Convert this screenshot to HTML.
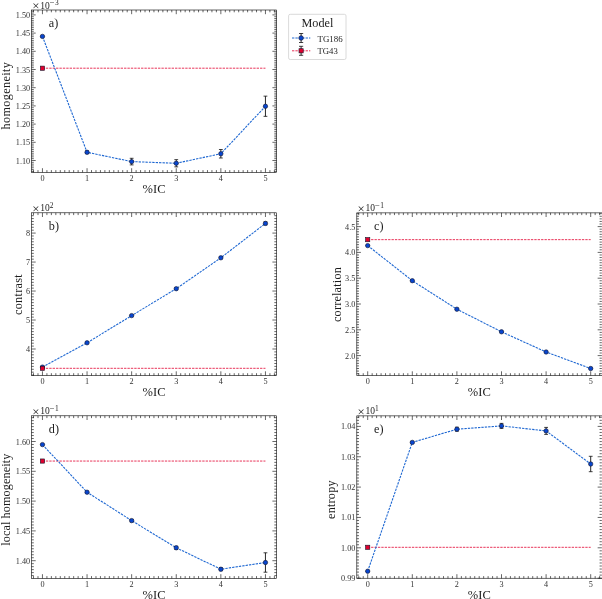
<!DOCTYPE html>
<html><head><meta charset="utf-8"><title>Texture features vs %IC</title>
<style>
html,body{margin:0;padding:0;background:#fff;}
body{width:602px;height:599px;overflow:hidden;}
svg{display:block;font-family:"Liberation Serif", "DejaVu Serif", serif;fill:#1c1c1c;}
</style></head><body>
<svg width="602" height="599" viewBox="0 0 602 599">
<rect width="602" height="599" fill="#fff"/>
<text x="42.45" y="180.5" font-size="8.2" text-anchor="middle" fill="#333">0</text>
<text x="87.05" y="180.5" font-size="8.2" text-anchor="middle" fill="#333">1</text>
<text x="131.65" y="180.5" font-size="8.2" text-anchor="middle" fill="#333">2</text>
<text x="176.25" y="180.5" font-size="8.2" text-anchor="middle" fill="#333">3</text>
<text x="220.85" y="180.5" font-size="8.2" text-anchor="middle" fill="#333">4</text>
<text x="265.45" y="180.5" font-size="8.2" text-anchor="middle" fill="#333">5</text>
<text x="30.15" y="163.5" font-size="8.2" text-anchor="end" fill="#333">1.10</text>
<text x="30.15" y="145.3" font-size="8.2" text-anchor="end" fill="#333">1.15</text>
<text x="30.15" y="127.1" font-size="8.2" text-anchor="end" fill="#333">1.20</text>
<text x="30.15" y="108.9" font-size="8.2" text-anchor="end" fill="#333">1.25</text>
<text x="30.15" y="90.7" font-size="8.2" text-anchor="end" fill="#333">1.30</text>
<text x="30.15" y="72.5" font-size="8.2" text-anchor="end" fill="#333">1.35</text>
<text x="30.15" y="54.3" font-size="8.2" text-anchor="end" fill="#333">1.40</text>
<text x="30.15" y="36.1" font-size="8.2" text-anchor="end" fill="#333">1.45</text>
<text x="30.15" y="17.9" font-size="8.2" text-anchor="end" fill="#333">1.50</text>
<path d="M42.45 172.4v-4.2M42.45 10v4.2M87.05 172.4v-4.2M87.05 10v4.2M131.65 172.4v-4.2M131.65 10v4.2M176.25 172.4v-4.2M176.25 10v4.2M220.85 172.4v-4.2M220.85 10v4.2M265.45 172.4v-4.2M265.45 10v4.2M31.5 160.5h4.2M276.6 160.5h-4.2M31.5 142.3h4.2M276.6 142.3h-4.2M31.5 124.1h4.2M276.6 124.1h-4.2M31.5 105.9h4.2M276.6 105.9h-4.2M31.5 87.7h4.2M276.6 87.7h-4.2M31.5 69.5h4.2M276.6 69.5h-4.2M31.5 51.3h4.2M276.6 51.3h-4.2M31.5 33.1h4.2M276.6 33.1h-4.2M31.5 14.9h4.2M276.6 14.9h-4.2" stroke="#000" stroke-width="0.6" fill="none"/>
<path d="M33.53 172.4v-2.3M33.53 10v2.3M37.99 172.4v-2.3M37.99 10v2.3M46.91 172.4v-2.3M46.91 10v2.3M51.37 172.4v-2.3M51.37 10v2.3M55.83 172.4v-2.3M55.83 10v2.3M60.29 172.4v-2.3M60.29 10v2.3M64.75 172.4v-2.3M64.75 10v2.3M69.21 172.4v-2.3M69.21 10v2.3M73.67 172.4v-2.3M73.67 10v2.3M78.13 172.4v-2.3M78.13 10v2.3M82.59 172.4v-2.3M82.59 10v2.3M91.51 172.4v-2.3M91.51 10v2.3M95.97 172.4v-2.3M95.97 10v2.3M100.43 172.4v-2.3M100.43 10v2.3M104.89 172.4v-2.3M104.89 10v2.3M109.35 172.4v-2.3M109.35 10v2.3M113.81 172.4v-2.3M113.81 10v2.3M118.27 172.4v-2.3M118.27 10v2.3M122.73 172.4v-2.3M122.73 10v2.3M127.19 172.4v-2.3M127.19 10v2.3M136.11 172.4v-2.3M136.11 10v2.3M140.57 172.4v-2.3M140.57 10v2.3M145.03 172.4v-2.3M145.03 10v2.3M149.49 172.4v-2.3M149.49 10v2.3M153.95 172.4v-2.3M153.95 10v2.3M158.41 172.4v-2.3M158.41 10v2.3M162.87 172.4v-2.3M162.87 10v2.3M167.33 172.4v-2.3M167.33 10v2.3M171.79 172.4v-2.3M171.79 10v2.3M180.71 172.4v-2.3M180.71 10v2.3M185.17 172.4v-2.3M185.17 10v2.3M189.63 172.4v-2.3M189.63 10v2.3M194.09 172.4v-2.3M194.09 10v2.3M198.55 172.4v-2.3M198.55 10v2.3M203.01 172.4v-2.3M203.01 10v2.3M207.47 172.4v-2.3M207.47 10v2.3M211.93 172.4v-2.3M211.93 10v2.3M216.39 172.4v-2.3M216.39 10v2.3M225.31 172.4v-2.3M225.31 10v2.3M229.77 172.4v-2.3M229.77 10v2.3M234.23 172.4v-2.3M234.23 10v2.3M238.69 172.4v-2.3M238.69 10v2.3M243.15 172.4v-2.3M243.15 10v2.3M247.61 172.4v-2.3M247.61 10v2.3M252.07 172.4v-2.3M252.07 10v2.3M256.53 172.4v-2.3M256.53 10v2.3M260.99 172.4v-2.3M260.99 10v2.3M269.91 172.4v-2.3M269.91 10v2.3M274.37 172.4v-2.3M274.37 10v2.3M31.5 171.42h2.3M276.6 171.42h-2.3M31.5 169.6h2.3M276.6 169.6h-2.3M31.5 167.78h2.3M276.6 167.78h-2.3M31.5 165.96h2.3M276.6 165.96h-2.3M31.5 164.14h2.3M276.6 164.14h-2.3M31.5 162.32h2.3M276.6 162.32h-2.3M31.5 158.68h2.3M276.6 158.68h-2.3M31.5 156.86h2.3M276.6 156.86h-2.3M31.5 155.04h2.3M276.6 155.04h-2.3M31.5 153.22h2.3M276.6 153.22h-2.3M31.5 151.4h2.3M276.6 151.4h-2.3M31.5 149.58h2.3M276.6 149.58h-2.3M31.5 147.76h2.3M276.6 147.76h-2.3M31.5 145.94h2.3M276.6 145.94h-2.3M31.5 144.12h2.3M276.6 144.12h-2.3M31.5 140.48h2.3M276.6 140.48h-2.3M31.5 138.66h2.3M276.6 138.66h-2.3M31.5 136.84h2.3M276.6 136.84h-2.3M31.5 135.02h2.3M276.6 135.02h-2.3M31.5 133.2h2.3M276.6 133.2h-2.3M31.5 131.38h2.3M276.6 131.38h-2.3M31.5 129.56h2.3M276.6 129.56h-2.3M31.5 127.74h2.3M276.6 127.74h-2.3M31.5 125.92h2.3M276.6 125.92h-2.3M31.5 122.28h2.3M276.6 122.28h-2.3M31.5 120.46h2.3M276.6 120.46h-2.3M31.5 118.64h2.3M276.6 118.64h-2.3M31.5 116.82h2.3M276.6 116.82h-2.3M31.5 115h2.3M276.6 115h-2.3M31.5 113.18h2.3M276.6 113.18h-2.3M31.5 111.36h2.3M276.6 111.36h-2.3M31.5 109.54h2.3M276.6 109.54h-2.3M31.5 107.72h2.3M276.6 107.72h-2.3M31.5 104.08h2.3M276.6 104.08h-2.3M31.5 102.26h2.3M276.6 102.26h-2.3M31.5 100.44h2.3M276.6 100.44h-2.3M31.5 98.62h2.3M276.6 98.62h-2.3M31.5 96.8h2.3M276.6 96.8h-2.3M31.5 94.98h2.3M276.6 94.98h-2.3M31.5 93.16h2.3M276.6 93.16h-2.3M31.5 91.34h2.3M276.6 91.34h-2.3M31.5 89.52h2.3M276.6 89.52h-2.3M31.5 85.88h2.3M276.6 85.88h-2.3M31.5 84.06h2.3M276.6 84.06h-2.3M31.5 82.24h2.3M276.6 82.24h-2.3M31.5 80.42h2.3M276.6 80.42h-2.3M31.5 78.6h2.3M276.6 78.6h-2.3M31.5 76.78h2.3M276.6 76.78h-2.3M31.5 74.96h2.3M276.6 74.96h-2.3M31.5 73.14h2.3M276.6 73.14h-2.3M31.5 71.32h2.3M276.6 71.32h-2.3M31.5 67.68h2.3M276.6 67.68h-2.3M31.5 65.86h2.3M276.6 65.86h-2.3M31.5 64.04h2.3M276.6 64.04h-2.3M31.5 62.22h2.3M276.6 62.22h-2.3M31.5 60.4h2.3M276.6 60.4h-2.3M31.5 58.58h2.3M276.6 58.58h-2.3M31.5 56.76h2.3M276.6 56.76h-2.3M31.5 54.94h2.3M276.6 54.94h-2.3M31.5 53.12h2.3M276.6 53.12h-2.3M31.5 49.48h2.3M276.6 49.48h-2.3M31.5 47.66h2.3M276.6 47.66h-2.3M31.5 45.84h2.3M276.6 45.84h-2.3M31.5 44.02h2.3M276.6 44.02h-2.3M31.5 42.2h2.3M276.6 42.2h-2.3M31.5 40.38h2.3M276.6 40.38h-2.3M31.5 38.56h2.3M276.6 38.56h-2.3M31.5 36.74h2.3M276.6 36.74h-2.3M31.5 34.92h2.3M276.6 34.92h-2.3M31.5 31.28h2.3M276.6 31.28h-2.3M31.5 29.46h2.3M276.6 29.46h-2.3M31.5 27.64h2.3M276.6 27.64h-2.3M31.5 25.82h2.3M276.6 25.82h-2.3M31.5 24h2.3M276.6 24h-2.3M31.5 22.18h2.3M276.6 22.18h-2.3M31.5 20.36h2.3M276.6 20.36h-2.3M31.5 18.54h2.3M276.6 18.54h-2.3M31.5 16.72h2.3M276.6 16.72h-2.3M31.5 13.08h2.3M276.6 13.08h-2.3M31.5 11.26h2.3M276.6 11.26h-2.3" stroke="#000" stroke-width="0.6" fill="none"/>
<rect x="31.5" y="10" width="245.1" height="162.4" fill="none" stroke="#000" stroke-width="0.6"/>
<text y="8.5"><tspan x="32.2" font-size="12.8" dy="1.8">×</tspan><tspan x="40.2" dy="-1.8" font-size="9.5">10</tspan><tspan x="49.8" font-size="8.8" dy="-3.3">−</tspan><tspan x="55.1" font-size="7.4" dy="-0.5">3</tspan></text>
<text x="154.05" y="192.6" font-size="13.5" text-anchor="middle" textLength="22.9" lengthAdjust="spacingAndGlyphs">%IC</text>
<text transform="translate(10,95.85) rotate(-90)" font-size="12.2" text-anchor="middle" textLength="67.2" lengthAdjust="spacing">homogeneity</text>
<text x="48.8" y="26.8" font-size="12.2" text-anchor="start" >a)</text>
<line x1="42.45" y1="68.2" x2="265.45" y2="68.2" stroke="#e8365a" stroke-width="1.0" stroke-dasharray="2.35 1.05"/>
<polyline points="42.45,36.4 87.05,152.3 131.65,161.6 176.25,163.25 220.85,153.75 265.45,106.25" fill="none" stroke="#1f68d2" stroke-width="1.1" stroke-dasharray="2.35 1.05"/>
<line x1="42.45" y1="36" x2="42.45" y2="36.8" stroke="#111" stroke-width="0.9" />
<line x1="40.55" y1="36" x2="44.35" y2="36" stroke="#111" stroke-width="0.8" />
<line x1="40.55" y1="36.8" x2="44.35" y2="36.8" stroke="#111" stroke-width="0.8" />
<line x1="87.05" y1="151" x2="87.05" y2="153.6" stroke="#111" stroke-width="0.9" />
<line x1="85.15" y1="151" x2="88.95" y2="151" stroke="#111" stroke-width="0.8" />
<line x1="85.15" y1="153.6" x2="88.95" y2="153.6" stroke="#111" stroke-width="0.8" />
<line x1="131.65" y1="158.3" x2="131.65" y2="164.9" stroke="#111" stroke-width="0.9" />
<line x1="129.75" y1="158.3" x2="133.55" y2="158.3" stroke="#111" stroke-width="0.8" />
<line x1="129.75" y1="164.9" x2="133.55" y2="164.9" stroke="#111" stroke-width="0.8" />
<line x1="176.25" y1="159.65" x2="176.25" y2="166.85" stroke="#111" stroke-width="0.9" />
<line x1="174.35" y1="159.65" x2="178.15" y2="159.65" stroke="#111" stroke-width="0.8" />
<line x1="174.35" y1="166.85" x2="178.15" y2="166.85" stroke="#111" stroke-width="0.8" />
<line x1="220.85" y1="149.5" x2="220.85" y2="158" stroke="#111" stroke-width="0.9" />
<line x1="218.95" y1="149.5" x2="222.75" y2="149.5" stroke="#111" stroke-width="0.8" />
<line x1="218.95" y1="158" x2="222.75" y2="158" stroke="#111" stroke-width="0.8" />
<line x1="265.45" y1="96.15" x2="265.45" y2="116.35" stroke="#111" stroke-width="0.9" />
<line x1="263.55" y1="96.15" x2="267.35" y2="96.15" stroke="#111" stroke-width="0.8" />
<line x1="263.55" y1="116.35" x2="267.35" y2="116.35" stroke="#111" stroke-width="0.8" />
<circle cx="42.45" cy="36.4" r="2.2" fill="#0846cf" stroke="#15152a" stroke-width="0.6"/>
<circle cx="87.05" cy="152.3" r="2.2" fill="#0846cf" stroke="#15152a" stroke-width="0.6"/>
<circle cx="131.65" cy="161.6" r="2.2" fill="#0846cf" stroke="#15152a" stroke-width="0.6"/>
<circle cx="176.25" cy="163.25" r="2.2" fill="#0846cf" stroke="#15152a" stroke-width="0.6"/>
<circle cx="220.85" cy="153.75" r="2.2" fill="#0846cf" stroke="#15152a" stroke-width="0.6"/>
<circle cx="265.45" cy="106.25" r="2.2" fill="#0846cf" stroke="#15152a" stroke-width="0.6"/>
<rect x="40.35" y="66.1" width="4.2" height="4.2" fill="#e0002e" stroke="#15152a" stroke-width="0.6"/>
<text x="42.45" y="383.6" font-size="8.2" text-anchor="middle" fill="#333">0</text>
<text x="87.05" y="383.6" font-size="8.2" text-anchor="middle" fill="#333">1</text>
<text x="131.65" y="383.6" font-size="8.2" text-anchor="middle" fill="#333">2</text>
<text x="176.25" y="383.6" font-size="8.2" text-anchor="middle" fill="#333">3</text>
<text x="220.85" y="383.6" font-size="8.2" text-anchor="middle" fill="#333">4</text>
<text x="265.45" y="383.6" font-size="8.2" text-anchor="middle" fill="#333">5</text>
<text x="30.15" y="352" font-size="8.2" text-anchor="end" fill="#333">4</text>
<text x="30.15" y="323.02" font-size="8.2" text-anchor="end" fill="#333">5</text>
<text x="30.15" y="294.04" font-size="8.2" text-anchor="end" fill="#333">6</text>
<text x="30.15" y="265.06" font-size="8.2" text-anchor="end" fill="#333">7</text>
<text x="30.15" y="236.08" font-size="8.2" text-anchor="end" fill="#333">8</text>
<path d="M42.45 375.5v-4.2M42.45 212.8v4.2M87.05 375.5v-4.2M87.05 212.8v4.2M131.65 375.5v-4.2M131.65 212.8v4.2M176.25 375.5v-4.2M176.25 212.8v4.2M220.85 375.5v-4.2M220.85 212.8v4.2M265.45 375.5v-4.2M265.45 212.8v4.2M31.5 349h4.2M276.6 349h-4.2M31.5 320.02h4.2M276.6 320.02h-4.2M31.5 291.04h4.2M276.6 291.04h-4.2M31.5 262.06h4.2M276.6 262.06h-4.2M31.5 233.08h4.2M276.6 233.08h-4.2" stroke="#000" stroke-width="0.6" fill="none"/>
<path d="M33.53 375.5v-2.3M33.53 212.8v2.3M37.99 375.5v-2.3M37.99 212.8v2.3M46.91 375.5v-2.3M46.91 212.8v2.3M51.37 375.5v-2.3M51.37 212.8v2.3M55.83 375.5v-2.3M55.83 212.8v2.3M60.29 375.5v-2.3M60.29 212.8v2.3M64.75 375.5v-2.3M64.75 212.8v2.3M69.21 375.5v-2.3M69.21 212.8v2.3M73.67 375.5v-2.3M73.67 212.8v2.3M78.13 375.5v-2.3M78.13 212.8v2.3M82.59 375.5v-2.3M82.59 212.8v2.3M91.51 375.5v-2.3M91.51 212.8v2.3M95.97 375.5v-2.3M95.97 212.8v2.3M100.43 375.5v-2.3M100.43 212.8v2.3M104.89 375.5v-2.3M104.89 212.8v2.3M109.35 375.5v-2.3M109.35 212.8v2.3M113.81 375.5v-2.3M113.81 212.8v2.3M118.27 375.5v-2.3M118.27 212.8v2.3M122.73 375.5v-2.3M122.73 212.8v2.3M127.19 375.5v-2.3M127.19 212.8v2.3M136.11 375.5v-2.3M136.11 212.8v2.3M140.57 375.5v-2.3M140.57 212.8v2.3M145.03 375.5v-2.3M145.03 212.8v2.3M149.49 375.5v-2.3M149.49 212.8v2.3M153.95 375.5v-2.3M153.95 212.8v2.3M158.41 375.5v-2.3M158.41 212.8v2.3M162.87 375.5v-2.3M162.87 212.8v2.3M167.33 375.5v-2.3M167.33 212.8v2.3M171.79 375.5v-2.3M171.79 212.8v2.3M180.71 375.5v-2.3M180.71 212.8v2.3M185.17 375.5v-2.3M185.17 212.8v2.3M189.63 375.5v-2.3M189.63 212.8v2.3M194.09 375.5v-2.3M194.09 212.8v2.3M198.55 375.5v-2.3M198.55 212.8v2.3M203.01 375.5v-2.3M203.01 212.8v2.3M207.47 375.5v-2.3M207.47 212.8v2.3M211.93 375.5v-2.3M211.93 212.8v2.3M216.39 375.5v-2.3M216.39 212.8v2.3M225.31 375.5v-2.3M225.31 212.8v2.3M229.77 375.5v-2.3M229.77 212.8v2.3M234.23 375.5v-2.3M234.23 212.8v2.3M238.69 375.5v-2.3M238.69 212.8v2.3M243.15 375.5v-2.3M243.15 212.8v2.3M247.61 375.5v-2.3M247.61 212.8v2.3M252.07 375.5v-2.3M252.07 212.8v2.3M256.53 375.5v-2.3M256.53 212.8v2.3M260.99 375.5v-2.3M260.99 212.8v2.3M269.91 375.5v-2.3M269.91 212.8v2.3M274.37 375.5v-2.3M274.37 212.8v2.3M31.5 375.08h2.3M276.6 375.08h-2.3M31.5 372.18h2.3M276.6 372.18h-2.3M31.5 369.29h2.3M276.6 369.29h-2.3M31.5 366.39h2.3M276.6 366.39h-2.3M31.5 363.49h2.3M276.6 363.49h-2.3M31.5 360.59h2.3M276.6 360.59h-2.3M31.5 357.69h2.3M276.6 357.69h-2.3M31.5 354.8h2.3M276.6 354.8h-2.3M31.5 351.9h2.3M276.6 351.9h-2.3M31.5 346.1h2.3M276.6 346.1h-2.3M31.5 343.2h2.3M276.6 343.2h-2.3M31.5 340.31h2.3M276.6 340.31h-2.3M31.5 337.41h2.3M276.6 337.41h-2.3M31.5 334.51h2.3M276.6 334.51h-2.3M31.5 331.61h2.3M276.6 331.61h-2.3M31.5 328.71h2.3M276.6 328.71h-2.3M31.5 325.82h2.3M276.6 325.82h-2.3M31.5 322.92h2.3M276.6 322.92h-2.3M31.5 317.12h2.3M276.6 317.12h-2.3M31.5 314.22h2.3M276.6 314.22h-2.3M31.5 311.33h2.3M276.6 311.33h-2.3M31.5 308.43h2.3M276.6 308.43h-2.3M31.5 305.53h2.3M276.6 305.53h-2.3M31.5 302.63h2.3M276.6 302.63h-2.3M31.5 299.73h2.3M276.6 299.73h-2.3M31.5 296.84h2.3M276.6 296.84h-2.3M31.5 293.94h2.3M276.6 293.94h-2.3M31.5 288.14h2.3M276.6 288.14h-2.3M31.5 285.24h2.3M276.6 285.24h-2.3M31.5 282.35h2.3M276.6 282.35h-2.3M31.5 279.45h2.3M276.6 279.45h-2.3M31.5 276.55h2.3M276.6 276.55h-2.3M31.5 273.65h2.3M276.6 273.65h-2.3M31.5 270.75h2.3M276.6 270.75h-2.3M31.5 267.86h2.3M276.6 267.86h-2.3M31.5 264.96h2.3M276.6 264.96h-2.3M31.5 259.16h2.3M276.6 259.16h-2.3M31.5 256.26h2.3M276.6 256.26h-2.3M31.5 253.37h2.3M276.6 253.37h-2.3M31.5 250.47h2.3M276.6 250.47h-2.3M31.5 247.57h2.3M276.6 247.57h-2.3M31.5 244.67h2.3M276.6 244.67h-2.3M31.5 241.77h2.3M276.6 241.77h-2.3M31.5 238.88h2.3M276.6 238.88h-2.3M31.5 235.98h2.3M276.6 235.98h-2.3M31.5 230.18h2.3M276.6 230.18h-2.3M31.5 227.28h2.3M276.6 227.28h-2.3M31.5 224.39h2.3M276.6 224.39h-2.3M31.5 221.49h2.3M276.6 221.49h-2.3M31.5 218.59h2.3M276.6 218.59h-2.3M31.5 215.69h2.3M276.6 215.69h-2.3" stroke="#000" stroke-width="0.6" fill="none"/>
<rect x="31.5" y="212.8" width="245.1" height="162.7" fill="none" stroke="#000" stroke-width="0.6"/>
<text y="211.3"><tspan x="32.2" font-size="12.8" dy="1.8">×</tspan><tspan x="40.2" dy="-1.8" font-size="9.5">10</tspan><tspan x="49.8" font-size="7.4" dy="-3.7">2</tspan></text>
<text x="154.05" y="395.7" font-size="13.5" text-anchor="middle" textLength="22.9" lengthAdjust="spacingAndGlyphs">%IC</text>
<text transform="translate(21.7,294.7) rotate(-90)" font-size="12.2" text-anchor="middle" textLength="40.6" lengthAdjust="spacing">contrast</text>
<text x="48.8" y="229.6" font-size="12.2" text-anchor="start" >b)</text>
<line x1="42.45" y1="368.3" x2="265.45" y2="368.3" stroke="#e8365a" stroke-width="1.0" stroke-dasharray="2.35 1.05"/>
<polyline points="42.45,367.1 87.05,342.8 131.65,315.6 176.25,288.7 220.85,257.8 265.45,223.4" fill="none" stroke="#1f68d2" stroke-width="1.1" stroke-dasharray="2.35 1.05"/>
<line x1="42.45" y1="366.8" x2="42.45" y2="367.4" stroke="#111" stroke-width="0.9" />
<line x1="40.55" y1="366.8" x2="44.35" y2="366.8" stroke="#111" stroke-width="0.8" />
<line x1="40.55" y1="367.4" x2="44.35" y2="367.4" stroke="#111" stroke-width="0.8" />
<line x1="87.05" y1="342.3" x2="87.05" y2="343.3" stroke="#111" stroke-width="0.9" />
<line x1="85.15" y1="342.3" x2="88.95" y2="342.3" stroke="#111" stroke-width="0.8" />
<line x1="85.15" y1="343.3" x2="88.95" y2="343.3" stroke="#111" stroke-width="0.8" />
<line x1="131.65" y1="315.1" x2="131.65" y2="316.1" stroke="#111" stroke-width="0.9" />
<line x1="129.75" y1="315.1" x2="133.55" y2="315.1" stroke="#111" stroke-width="0.8" />
<line x1="129.75" y1="316.1" x2="133.55" y2="316.1" stroke="#111" stroke-width="0.8" />
<line x1="176.25" y1="288" x2="176.25" y2="289.4" stroke="#111" stroke-width="0.9" />
<line x1="174.35" y1="288" x2="178.15" y2="288" stroke="#111" stroke-width="0.8" />
<line x1="174.35" y1="289.4" x2="178.15" y2="289.4" stroke="#111" stroke-width="0.8" />
<line x1="220.85" y1="257" x2="220.85" y2="258.6" stroke="#111" stroke-width="0.9" />
<line x1="218.95" y1="257" x2="222.75" y2="257" stroke="#111" stroke-width="0.8" />
<line x1="218.95" y1="258.6" x2="222.75" y2="258.6" stroke="#111" stroke-width="0.8" />
<line x1="265.45" y1="221.9" x2="265.45" y2="224.9" stroke="#111" stroke-width="0.9" />
<line x1="263.55" y1="221.9" x2="267.35" y2="221.9" stroke="#111" stroke-width="0.8" />
<line x1="263.55" y1="224.9" x2="267.35" y2="224.9" stroke="#111" stroke-width="0.8" />
<circle cx="42.45" cy="367.1" r="2.2" fill="#0846cf" stroke="#15152a" stroke-width="0.6"/>
<circle cx="87.05" cy="342.8" r="2.2" fill="#0846cf" stroke="#15152a" stroke-width="0.6"/>
<circle cx="131.65" cy="315.6" r="2.2" fill="#0846cf" stroke="#15152a" stroke-width="0.6"/>
<circle cx="176.25" cy="288.7" r="2.2" fill="#0846cf" stroke="#15152a" stroke-width="0.6"/>
<circle cx="220.85" cy="257.8" r="2.2" fill="#0846cf" stroke="#15152a" stroke-width="0.6"/>
<circle cx="265.45" cy="223.4" r="2.2" fill="#0846cf" stroke="#15152a" stroke-width="0.6"/>
<rect x="40.35" y="366.2" width="4.2" height="4.2" fill="#e0002e" stroke="#15152a" stroke-width="0.6"/>
<text x="367.7" y="383.6" font-size="8.2" text-anchor="middle" fill="#333">0</text>
<text x="412.3" y="383.6" font-size="8.2" text-anchor="middle" fill="#333">1</text>
<text x="456.9" y="383.6" font-size="8.2" text-anchor="middle" fill="#333">2</text>
<text x="501.5" y="383.6" font-size="8.2" text-anchor="middle" fill="#333">3</text>
<text x="546.1" y="383.6" font-size="8.2" text-anchor="middle" fill="#333">4</text>
<text x="590.7" y="383.6" font-size="8.2" text-anchor="middle" fill="#333">5</text>
<text x="355.35" y="358.6" font-size="8.2" text-anchor="end" fill="#333">2.0</text>
<text x="355.35" y="332.8" font-size="8.2" text-anchor="end" fill="#333">2.5</text>
<text x="355.35" y="307" font-size="8.2" text-anchor="end" fill="#333">3.0</text>
<text x="355.35" y="281.2" font-size="8.2" text-anchor="end" fill="#333">3.5</text>
<text x="355.35" y="255.4" font-size="8.2" text-anchor="end" fill="#333">4.0</text>
<text x="355.35" y="229.6" font-size="8.2" text-anchor="end" fill="#333">4.5</text>
<path d="M367.7 375.5v-4.2M367.7 212.8v4.2M412.3 375.5v-4.2M412.3 212.8v4.2M456.9 375.5v-4.2M456.9 212.8v4.2M501.5 375.5v-4.2M501.5 212.8v4.2M546.1 375.5v-4.2M546.1 212.8v4.2M590.7 375.5v-4.2M590.7 212.8v4.2M356.7 355.6h4.2M601.85 355.6h-4.2M356.7 329.8h4.2M601.85 329.8h-4.2M356.7 304h4.2M601.85 304h-4.2M356.7 278.2h4.2M601.85 278.2h-4.2M356.7 252.4h4.2M601.85 252.4h-4.2M356.7 226.6h4.2M601.85 226.6h-4.2" stroke="#000" stroke-width="0.6" fill="none"/>
<path d="M358.78 375.5v-2.3M358.78 212.8v2.3M363.24 375.5v-2.3M363.24 212.8v2.3M372.16 375.5v-2.3M372.16 212.8v2.3M376.62 375.5v-2.3M376.62 212.8v2.3M381.08 375.5v-2.3M381.08 212.8v2.3M385.54 375.5v-2.3M385.54 212.8v2.3M390 375.5v-2.3M390 212.8v2.3M394.46 375.5v-2.3M394.46 212.8v2.3M398.92 375.5v-2.3M398.92 212.8v2.3M403.38 375.5v-2.3M403.38 212.8v2.3M407.84 375.5v-2.3M407.84 212.8v2.3M416.76 375.5v-2.3M416.76 212.8v2.3M421.22 375.5v-2.3M421.22 212.8v2.3M425.68 375.5v-2.3M425.68 212.8v2.3M430.14 375.5v-2.3M430.14 212.8v2.3M434.6 375.5v-2.3M434.6 212.8v2.3M439.06 375.5v-2.3M439.06 212.8v2.3M443.52 375.5v-2.3M443.52 212.8v2.3M447.98 375.5v-2.3M447.98 212.8v2.3M452.44 375.5v-2.3M452.44 212.8v2.3M461.36 375.5v-2.3M461.36 212.8v2.3M465.82 375.5v-2.3M465.82 212.8v2.3M470.28 375.5v-2.3M470.28 212.8v2.3M474.74 375.5v-2.3M474.74 212.8v2.3M479.2 375.5v-2.3M479.2 212.8v2.3M483.66 375.5v-2.3M483.66 212.8v2.3M488.12 375.5v-2.3M488.12 212.8v2.3M492.58 375.5v-2.3M492.58 212.8v2.3M497.04 375.5v-2.3M497.04 212.8v2.3M505.96 375.5v-2.3M505.96 212.8v2.3M510.42 375.5v-2.3M510.42 212.8v2.3M514.88 375.5v-2.3M514.88 212.8v2.3M519.34 375.5v-2.3M519.34 212.8v2.3M523.8 375.5v-2.3M523.8 212.8v2.3M528.26 375.5v-2.3M528.26 212.8v2.3M532.72 375.5v-2.3M532.72 212.8v2.3M537.18 375.5v-2.3M537.18 212.8v2.3M541.64 375.5v-2.3M541.64 212.8v2.3M550.56 375.5v-2.3M550.56 212.8v2.3M555.02 375.5v-2.3M555.02 212.8v2.3M559.48 375.5v-2.3M559.48 212.8v2.3M563.94 375.5v-2.3M563.94 212.8v2.3M568.4 375.5v-2.3M568.4 212.8v2.3M572.86 375.5v-2.3M572.86 212.8v2.3M577.32 375.5v-2.3M577.32 212.8v2.3M581.78 375.5v-2.3M581.78 212.8v2.3M586.24 375.5v-2.3M586.24 212.8v2.3M595.16 375.5v-2.3M595.16 212.8v2.3M599.62 375.5v-2.3M599.62 212.8v2.3M356.7 373.66h2.3M601.85 373.66h-2.3M356.7 371.08h2.3M601.85 371.08h-2.3M356.7 368.5h2.3M601.85 368.5h-2.3M356.7 365.92h2.3M601.85 365.92h-2.3M356.7 363.34h2.3M601.85 363.34h-2.3M356.7 360.76h2.3M601.85 360.76h-2.3M356.7 358.18h2.3M601.85 358.18h-2.3M356.7 353.02h2.3M601.85 353.02h-2.3M356.7 350.44h2.3M601.85 350.44h-2.3M356.7 347.86h2.3M601.85 347.86h-2.3M356.7 345.28h2.3M601.85 345.28h-2.3M356.7 342.7h2.3M601.85 342.7h-2.3M356.7 340.12h2.3M601.85 340.12h-2.3M356.7 337.54h2.3M601.85 337.54h-2.3M356.7 334.96h2.3M601.85 334.96h-2.3M356.7 332.38h2.3M601.85 332.38h-2.3M356.7 327.22h2.3M601.85 327.22h-2.3M356.7 324.64h2.3M601.85 324.64h-2.3M356.7 322.06h2.3M601.85 322.06h-2.3M356.7 319.48h2.3M601.85 319.48h-2.3M356.7 316.9h2.3M601.85 316.9h-2.3M356.7 314.32h2.3M601.85 314.32h-2.3M356.7 311.74h2.3M601.85 311.74h-2.3M356.7 309.16h2.3M601.85 309.16h-2.3M356.7 306.58h2.3M601.85 306.58h-2.3M356.7 301.42h2.3M601.85 301.42h-2.3M356.7 298.84h2.3M601.85 298.84h-2.3M356.7 296.26h2.3M601.85 296.26h-2.3M356.7 293.68h2.3M601.85 293.68h-2.3M356.7 291.1h2.3M601.85 291.1h-2.3M356.7 288.52h2.3M601.85 288.52h-2.3M356.7 285.94h2.3M601.85 285.94h-2.3M356.7 283.36h2.3M601.85 283.36h-2.3M356.7 280.78h2.3M601.85 280.78h-2.3M356.7 275.62h2.3M601.85 275.62h-2.3M356.7 273.04h2.3M601.85 273.04h-2.3M356.7 270.46h2.3M601.85 270.46h-2.3M356.7 267.88h2.3M601.85 267.88h-2.3M356.7 265.3h2.3M601.85 265.3h-2.3M356.7 262.72h2.3M601.85 262.72h-2.3M356.7 260.14h2.3M601.85 260.14h-2.3M356.7 257.56h2.3M601.85 257.56h-2.3M356.7 254.98h2.3M601.85 254.98h-2.3M356.7 249.82h2.3M601.85 249.82h-2.3M356.7 247.24h2.3M601.85 247.24h-2.3M356.7 244.66h2.3M601.85 244.66h-2.3M356.7 242.08h2.3M601.85 242.08h-2.3M356.7 239.5h2.3M601.85 239.5h-2.3M356.7 236.92h2.3M601.85 236.92h-2.3M356.7 234.34h2.3M601.85 234.34h-2.3M356.7 231.76h2.3M601.85 231.76h-2.3M356.7 229.18h2.3M601.85 229.18h-2.3M356.7 224.02h2.3M601.85 224.02h-2.3M356.7 221.44h2.3M601.85 221.44h-2.3M356.7 218.86h2.3M601.85 218.86h-2.3M356.7 216.28h2.3M601.85 216.28h-2.3M356.7 213.7h2.3M601.85 213.7h-2.3" stroke="#000" stroke-width="0.6" fill="none"/>
<path d="M603 212.8H356.7V375.5H603" fill="none" stroke="#000" stroke-width="0.6"/>
<text y="211.3"><tspan x="357.4" font-size="12.8" dy="1.8">×</tspan><tspan x="365.4" dy="-1.8" font-size="9.5">10</tspan><tspan x="375" font-size="8.8" dy="-3.3">−</tspan><tspan x="380.3" font-size="7.4" dy="-0.5">1</tspan></text>
<text x="479.27" y="395.7" font-size="13.5" text-anchor="middle" textLength="22.9" lengthAdjust="spacingAndGlyphs">%IC</text>
<text transform="translate(340.8,294.6) rotate(-90)" font-size="12.2" text-anchor="middle" textLength="54.8" lengthAdjust="spacing">correlation</text>
<text x="374" y="229.6" font-size="12.2" text-anchor="start" >c)</text>
<line x1="367.7" y1="239.65" x2="590.7" y2="239.65" stroke="#e8365a" stroke-width="1.0" stroke-dasharray="2.35 1.05"/>
<polyline points="367.7,245.6 412.3,280.7 456.9,309.2 501.5,331.8 546.1,352 590.7,368.5" fill="none" stroke="#1f68d2" stroke-width="1.1" stroke-dasharray="2.35 1.05"/>
<line x1="367.7" y1="245.4" x2="367.7" y2="245.8" stroke="#111" stroke-width="0.9" />
<line x1="365.8" y1="245.4" x2="369.6" y2="245.4" stroke="#111" stroke-width="0.8" />
<line x1="365.8" y1="245.8" x2="369.6" y2="245.8" stroke="#111" stroke-width="0.8" />
<line x1="412.3" y1="280.4" x2="412.3" y2="281" stroke="#111" stroke-width="0.9" />
<line x1="410.4" y1="280.4" x2="414.2" y2="280.4" stroke="#111" stroke-width="0.8" />
<line x1="410.4" y1="281" x2="414.2" y2="281" stroke="#111" stroke-width="0.8" />
<line x1="456.9" y1="308.9" x2="456.9" y2="309.5" stroke="#111" stroke-width="0.9" />
<line x1="455" y1="308.9" x2="458.8" y2="308.9" stroke="#111" stroke-width="0.8" />
<line x1="455" y1="309.5" x2="458.8" y2="309.5" stroke="#111" stroke-width="0.8" />
<line x1="501.5" y1="331.5" x2="501.5" y2="332.1" stroke="#111" stroke-width="0.9" />
<line x1="499.6" y1="331.5" x2="503.4" y2="331.5" stroke="#111" stroke-width="0.8" />
<line x1="499.6" y1="332.1" x2="503.4" y2="332.1" stroke="#111" stroke-width="0.8" />
<line x1="546.1" y1="351.6" x2="546.1" y2="352.4" stroke="#111" stroke-width="0.9" />
<line x1="544.2" y1="351.6" x2="548" y2="351.6" stroke="#111" stroke-width="0.8" />
<line x1="544.2" y1="352.4" x2="548" y2="352.4" stroke="#111" stroke-width="0.8" />
<line x1="590.7" y1="368" x2="590.7" y2="369" stroke="#111" stroke-width="0.9" />
<line x1="588.8" y1="368" x2="592.6" y2="368" stroke="#111" stroke-width="0.8" />
<line x1="588.8" y1="369" x2="592.6" y2="369" stroke="#111" stroke-width="0.8" />
<circle cx="367.7" cy="245.6" r="2.2" fill="#0846cf" stroke="#15152a" stroke-width="0.6"/>
<circle cx="412.3" cy="280.7" r="2.2" fill="#0846cf" stroke="#15152a" stroke-width="0.6"/>
<circle cx="456.9" cy="309.2" r="2.2" fill="#0846cf" stroke="#15152a" stroke-width="0.6"/>
<circle cx="501.5" cy="331.8" r="2.2" fill="#0846cf" stroke="#15152a" stroke-width="0.6"/>
<circle cx="546.1" cy="352" r="2.2" fill="#0846cf" stroke="#15152a" stroke-width="0.6"/>
<circle cx="590.7" cy="368.5" r="2.2" fill="#0846cf" stroke="#15152a" stroke-width="0.6"/>
<rect x="365.6" y="237.55" width="4.2" height="4.2" fill="#e0002e" stroke="#15152a" stroke-width="0.6"/>
<text x="42.45" y="586.5" font-size="8.2" text-anchor="middle" fill="#333">0</text>
<text x="87.05" y="586.5" font-size="8.2" text-anchor="middle" fill="#333">1</text>
<text x="131.65" y="586.5" font-size="8.2" text-anchor="middle" fill="#333">2</text>
<text x="176.25" y="586.5" font-size="8.2" text-anchor="middle" fill="#333">3</text>
<text x="220.85" y="586.5" font-size="8.2" text-anchor="middle" fill="#333">4</text>
<text x="265.45" y="586.5" font-size="8.2" text-anchor="middle" fill="#333">5</text>
<text x="30.15" y="563.7" font-size="8.2" text-anchor="end" fill="#333">1.40</text>
<text x="30.15" y="533.9" font-size="8.2" text-anchor="end" fill="#333">1.45</text>
<text x="30.15" y="504.1" font-size="8.2" text-anchor="end" fill="#333">1.50</text>
<text x="30.15" y="474.3" font-size="8.2" text-anchor="end" fill="#333">1.55</text>
<text x="30.15" y="444.5" font-size="8.2" text-anchor="end" fill="#333">1.60</text>
<path d="M42.45 578.4v-4.2M42.45 415.8v4.2M87.05 578.4v-4.2M87.05 415.8v4.2M131.65 578.4v-4.2M131.65 415.8v4.2M176.25 578.4v-4.2M176.25 415.8v4.2M220.85 578.4v-4.2M220.85 415.8v4.2M265.45 578.4v-4.2M265.45 415.8v4.2M31.5 560.7h4.2M276.6 560.7h-4.2M31.5 530.9h4.2M276.6 530.9h-4.2M31.5 501.1h4.2M276.6 501.1h-4.2M31.5 471.3h4.2M276.6 471.3h-4.2M31.5 441.5h4.2M276.6 441.5h-4.2" stroke="#000" stroke-width="0.6" fill="none"/>
<path d="M33.53 578.4v-2.3M33.53 415.8v2.3M37.99 578.4v-2.3M37.99 415.8v2.3M46.91 578.4v-2.3M46.91 415.8v2.3M51.37 578.4v-2.3M51.37 415.8v2.3M55.83 578.4v-2.3M55.83 415.8v2.3M60.29 578.4v-2.3M60.29 415.8v2.3M64.75 578.4v-2.3M64.75 415.8v2.3M69.21 578.4v-2.3M69.21 415.8v2.3M73.67 578.4v-2.3M73.67 415.8v2.3M78.13 578.4v-2.3M78.13 415.8v2.3M82.59 578.4v-2.3M82.59 415.8v2.3M91.51 578.4v-2.3M91.51 415.8v2.3M95.97 578.4v-2.3M95.97 415.8v2.3M100.43 578.4v-2.3M100.43 415.8v2.3M104.89 578.4v-2.3M104.89 415.8v2.3M109.35 578.4v-2.3M109.35 415.8v2.3M113.81 578.4v-2.3M113.81 415.8v2.3M118.27 578.4v-2.3M118.27 415.8v2.3M122.73 578.4v-2.3M122.73 415.8v2.3M127.19 578.4v-2.3M127.19 415.8v2.3M136.11 578.4v-2.3M136.11 415.8v2.3M140.57 578.4v-2.3M140.57 415.8v2.3M145.03 578.4v-2.3M145.03 415.8v2.3M149.49 578.4v-2.3M149.49 415.8v2.3M153.95 578.4v-2.3M153.95 415.8v2.3M158.41 578.4v-2.3M158.41 415.8v2.3M162.87 578.4v-2.3M162.87 415.8v2.3M167.33 578.4v-2.3M167.33 415.8v2.3M171.79 578.4v-2.3M171.79 415.8v2.3M180.71 578.4v-2.3M180.71 415.8v2.3M185.17 578.4v-2.3M185.17 415.8v2.3M189.63 578.4v-2.3M189.63 415.8v2.3M194.09 578.4v-2.3M194.09 415.8v2.3M198.55 578.4v-2.3M198.55 415.8v2.3M203.01 578.4v-2.3M203.01 415.8v2.3M207.47 578.4v-2.3M207.47 415.8v2.3M211.93 578.4v-2.3M211.93 415.8v2.3M216.39 578.4v-2.3M216.39 415.8v2.3M225.31 578.4v-2.3M225.31 415.8v2.3M229.77 578.4v-2.3M229.77 415.8v2.3M234.23 578.4v-2.3M234.23 415.8v2.3M238.69 578.4v-2.3M238.69 415.8v2.3M243.15 578.4v-2.3M243.15 415.8v2.3M247.61 578.4v-2.3M247.61 415.8v2.3M252.07 578.4v-2.3M252.07 415.8v2.3M256.53 578.4v-2.3M256.53 415.8v2.3M260.99 578.4v-2.3M260.99 415.8v2.3M269.91 578.4v-2.3M269.91 415.8v2.3M274.37 578.4v-2.3M274.37 415.8v2.3M31.5 575.6h2.3M276.6 575.6h-2.3M31.5 572.62h2.3M276.6 572.62h-2.3M31.5 569.64h2.3M276.6 569.64h-2.3M31.5 566.66h2.3M276.6 566.66h-2.3M31.5 563.68h2.3M276.6 563.68h-2.3M31.5 557.72h2.3M276.6 557.72h-2.3M31.5 554.74h2.3M276.6 554.74h-2.3M31.5 551.76h2.3M276.6 551.76h-2.3M31.5 548.78h2.3M276.6 548.78h-2.3M31.5 545.8h2.3M276.6 545.8h-2.3M31.5 542.82h2.3M276.6 542.82h-2.3M31.5 539.84h2.3M276.6 539.84h-2.3M31.5 536.86h2.3M276.6 536.86h-2.3M31.5 533.88h2.3M276.6 533.88h-2.3M31.5 527.92h2.3M276.6 527.92h-2.3M31.5 524.94h2.3M276.6 524.94h-2.3M31.5 521.96h2.3M276.6 521.96h-2.3M31.5 518.98h2.3M276.6 518.98h-2.3M31.5 516h2.3M276.6 516h-2.3M31.5 513.02h2.3M276.6 513.02h-2.3M31.5 510.04h2.3M276.6 510.04h-2.3M31.5 507.06h2.3M276.6 507.06h-2.3M31.5 504.08h2.3M276.6 504.08h-2.3M31.5 498.12h2.3M276.6 498.12h-2.3M31.5 495.14h2.3M276.6 495.14h-2.3M31.5 492.16h2.3M276.6 492.16h-2.3M31.5 489.18h2.3M276.6 489.18h-2.3M31.5 486.2h2.3M276.6 486.2h-2.3M31.5 483.22h2.3M276.6 483.22h-2.3M31.5 480.24h2.3M276.6 480.24h-2.3M31.5 477.26h2.3M276.6 477.26h-2.3M31.5 474.28h2.3M276.6 474.28h-2.3M31.5 468.32h2.3M276.6 468.32h-2.3M31.5 465.34h2.3M276.6 465.34h-2.3M31.5 462.36h2.3M276.6 462.36h-2.3M31.5 459.38h2.3M276.6 459.38h-2.3M31.5 456.4h2.3M276.6 456.4h-2.3M31.5 453.42h2.3M276.6 453.42h-2.3M31.5 450.44h2.3M276.6 450.44h-2.3M31.5 447.46h2.3M276.6 447.46h-2.3M31.5 444.48h2.3M276.6 444.48h-2.3M31.5 438.52h2.3M276.6 438.52h-2.3M31.5 435.54h2.3M276.6 435.54h-2.3M31.5 432.56h2.3M276.6 432.56h-2.3M31.5 429.58h2.3M276.6 429.58h-2.3M31.5 426.6h2.3M276.6 426.6h-2.3M31.5 423.62h2.3M276.6 423.62h-2.3M31.5 420.64h2.3M276.6 420.64h-2.3M31.5 417.66h2.3M276.6 417.66h-2.3" stroke="#000" stroke-width="0.6" fill="none"/>
<rect x="31.5" y="415.8" width="245.1" height="162.6" fill="none" stroke="#000" stroke-width="0.6"/>
<text y="414.3"><tspan x="32.2" font-size="12.8" dy="1.8">×</tspan><tspan x="40.2" dy="-1.8" font-size="9.5">10</tspan><tspan x="49.8" font-size="8.8" dy="-3.3">−</tspan><tspan x="55.1" font-size="7.4" dy="-0.5">1</tspan></text>
<text x="154.05" y="598.6" font-size="13.5" text-anchor="middle" textLength="22.9" lengthAdjust="spacingAndGlyphs">%IC</text>
<text transform="translate(9.5,499.75) rotate(-90)" font-size="12.2" text-anchor="middle" textLength="92.1" lengthAdjust="spacing">local homogeneity</text>
<text x="48.8" y="432.6" font-size="12.2" text-anchor="start" >d)</text>
<line x1="42.45" y1="461.05" x2="265.45" y2="461.05" stroke="#e8365a" stroke-width="1.0" stroke-dasharray="2.35 1.05"/>
<polyline points="42.45,444.6 87.05,492.2 131.65,520.6 176.25,547.8 220.85,569.2 265.45,562.5" fill="none" stroke="#1f68d2" stroke-width="1.1" stroke-dasharray="2.35 1.05"/>
<line x1="42.45" y1="444.3" x2="42.45" y2="444.9" stroke="#111" stroke-width="0.9" />
<line x1="40.55" y1="444.3" x2="44.35" y2="444.3" stroke="#111" stroke-width="0.8" />
<line x1="40.55" y1="444.9" x2="44.35" y2="444.9" stroke="#111" stroke-width="0.8" />
<line x1="87.05" y1="491.4" x2="87.05" y2="493" stroke="#111" stroke-width="0.9" />
<line x1="85.15" y1="491.4" x2="88.95" y2="491.4" stroke="#111" stroke-width="0.8" />
<line x1="85.15" y1="493" x2="88.95" y2="493" stroke="#111" stroke-width="0.8" />
<line x1="131.65" y1="519.4" x2="131.65" y2="521.8" stroke="#111" stroke-width="0.9" />
<line x1="129.75" y1="519.4" x2="133.55" y2="519.4" stroke="#111" stroke-width="0.8" />
<line x1="129.75" y1="521.8" x2="133.55" y2="521.8" stroke="#111" stroke-width="0.8" />
<line x1="176.25" y1="546.3" x2="176.25" y2="549.3" stroke="#111" stroke-width="0.9" />
<line x1="174.35" y1="546.3" x2="178.15" y2="546.3" stroke="#111" stroke-width="0.8" />
<line x1="174.35" y1="549.3" x2="178.15" y2="549.3" stroke="#111" stroke-width="0.8" />
<line x1="220.85" y1="567.7" x2="220.85" y2="570.7" stroke="#111" stroke-width="0.9" />
<line x1="218.95" y1="567.7" x2="222.75" y2="567.7" stroke="#111" stroke-width="0.8" />
<line x1="218.95" y1="570.7" x2="222.75" y2="570.7" stroke="#111" stroke-width="0.8" />
<line x1="265.45" y1="552.8" x2="265.45" y2="572.2" stroke="#111" stroke-width="0.9" />
<line x1="263.55" y1="552.8" x2="267.35" y2="552.8" stroke="#111" stroke-width="0.8" />
<line x1="263.55" y1="572.2" x2="267.35" y2="572.2" stroke="#111" stroke-width="0.8" />
<circle cx="42.45" cy="444.6" r="2.2" fill="#0846cf" stroke="#15152a" stroke-width="0.6"/>
<circle cx="87.05" cy="492.2" r="2.2" fill="#0846cf" stroke="#15152a" stroke-width="0.6"/>
<circle cx="131.65" cy="520.6" r="2.2" fill="#0846cf" stroke="#15152a" stroke-width="0.6"/>
<circle cx="176.25" cy="547.8" r="2.2" fill="#0846cf" stroke="#15152a" stroke-width="0.6"/>
<circle cx="220.85" cy="569.2" r="2.2" fill="#0846cf" stroke="#15152a" stroke-width="0.6"/>
<circle cx="265.45" cy="562.5" r="2.2" fill="#0846cf" stroke="#15152a" stroke-width="0.6"/>
<rect x="40.35" y="458.95" width="4.2" height="4.2" fill="#e0002e" stroke="#15152a" stroke-width="0.6"/>
<text x="367.7" y="586.5" font-size="8.2" text-anchor="middle" fill="#333">0</text>
<text x="412.3" y="586.5" font-size="8.2" text-anchor="middle" fill="#333">1</text>
<text x="456.9" y="586.5" font-size="8.2" text-anchor="middle" fill="#333">2</text>
<text x="501.5" y="586.5" font-size="8.2" text-anchor="middle" fill="#333">3</text>
<text x="546.1" y="586.5" font-size="8.2" text-anchor="middle" fill="#333">4</text>
<text x="590.7" y="586.5" font-size="8.2" text-anchor="middle" fill="#333">5</text>
<text x="355.35" y="581.15" font-size="8.2" text-anchor="end" fill="#333">0.99</text>
<text x="355.35" y="550.8" font-size="8.2" text-anchor="end" fill="#333">1.00</text>
<text x="355.35" y="520.45" font-size="8.2" text-anchor="end" fill="#333">1.01</text>
<text x="355.35" y="490.1" font-size="8.2" text-anchor="end" fill="#333">1.02</text>
<text x="355.35" y="459.75" font-size="8.2" text-anchor="end" fill="#333">1.03</text>
<text x="355.35" y="429.4" font-size="8.2" text-anchor="end" fill="#333">1.04</text>
<path d="M367.7 578.4v-4.2M367.7 415.8v4.2M412.3 578.4v-4.2M412.3 415.8v4.2M456.9 578.4v-4.2M456.9 415.8v4.2M501.5 578.4v-4.2M501.5 415.8v4.2M546.1 578.4v-4.2M546.1 415.8v4.2M590.7 578.4v-4.2M590.7 415.8v4.2M356.7 578.15h4.2M601.85 578.15h-4.2M356.7 547.8h4.2M601.85 547.8h-4.2M356.7 517.45h4.2M601.85 517.45h-4.2M356.7 487.1h4.2M601.85 487.1h-4.2M356.7 456.75h4.2M601.85 456.75h-4.2M356.7 426.4h4.2M601.85 426.4h-4.2" stroke="#000" stroke-width="0.6" fill="none"/>
<path d="M358.78 578.4v-2.3M358.78 415.8v2.3M363.24 578.4v-2.3M363.24 415.8v2.3M372.16 578.4v-2.3M372.16 415.8v2.3M376.62 578.4v-2.3M376.62 415.8v2.3M381.08 578.4v-2.3M381.08 415.8v2.3M385.54 578.4v-2.3M385.54 415.8v2.3M390 578.4v-2.3M390 415.8v2.3M394.46 578.4v-2.3M394.46 415.8v2.3M398.92 578.4v-2.3M398.92 415.8v2.3M403.38 578.4v-2.3M403.38 415.8v2.3M407.84 578.4v-2.3M407.84 415.8v2.3M416.76 578.4v-2.3M416.76 415.8v2.3M421.22 578.4v-2.3M421.22 415.8v2.3M425.68 578.4v-2.3M425.68 415.8v2.3M430.14 578.4v-2.3M430.14 415.8v2.3M434.6 578.4v-2.3M434.6 415.8v2.3M439.06 578.4v-2.3M439.06 415.8v2.3M443.52 578.4v-2.3M443.52 415.8v2.3M447.98 578.4v-2.3M447.98 415.8v2.3M452.44 578.4v-2.3M452.44 415.8v2.3M461.36 578.4v-2.3M461.36 415.8v2.3M465.82 578.4v-2.3M465.82 415.8v2.3M470.28 578.4v-2.3M470.28 415.8v2.3M474.74 578.4v-2.3M474.74 415.8v2.3M479.2 578.4v-2.3M479.2 415.8v2.3M483.66 578.4v-2.3M483.66 415.8v2.3M488.12 578.4v-2.3M488.12 415.8v2.3M492.58 578.4v-2.3M492.58 415.8v2.3M497.04 578.4v-2.3M497.04 415.8v2.3M505.96 578.4v-2.3M505.96 415.8v2.3M510.42 578.4v-2.3M510.42 415.8v2.3M514.88 578.4v-2.3M514.88 415.8v2.3M519.34 578.4v-2.3M519.34 415.8v2.3M523.8 578.4v-2.3M523.8 415.8v2.3M528.26 578.4v-2.3M528.26 415.8v2.3M532.72 578.4v-2.3M532.72 415.8v2.3M537.18 578.4v-2.3M537.18 415.8v2.3M541.64 578.4v-2.3M541.64 415.8v2.3M550.56 578.4v-2.3M550.56 415.8v2.3M555.02 578.4v-2.3M555.02 415.8v2.3M559.48 578.4v-2.3M559.48 415.8v2.3M563.94 578.4v-2.3M563.94 415.8v2.3M568.4 578.4v-2.3M568.4 415.8v2.3M572.86 578.4v-2.3M572.86 415.8v2.3M577.32 578.4v-2.3M577.32 415.8v2.3M581.78 578.4v-2.3M581.78 415.8v2.3M586.24 578.4v-2.3M586.24 415.8v2.3M595.16 578.4v-2.3M595.16 415.8v2.3M599.62 578.4v-2.3M599.62 415.8v2.3M356.7 575.12h2.3M601.85 575.12h-2.3M356.7 572.08h2.3M601.85 572.08h-2.3M356.7 569.04h2.3M601.85 569.04h-2.3M356.7 566.01h2.3M601.85 566.01h-2.3M356.7 562.98h2.3M601.85 562.98h-2.3M356.7 559.94h2.3M601.85 559.94h-2.3M356.7 556.9h2.3M601.85 556.9h-2.3M356.7 553.87h2.3M601.85 553.87h-2.3M356.7 550.83h2.3M601.85 550.83h-2.3M356.7 544.76h2.3M601.85 544.76h-2.3M356.7 541.73h2.3M601.85 541.73h-2.3M356.7 538.69h2.3M601.85 538.69h-2.3M356.7 535.66h2.3M601.85 535.66h-2.3M356.7 532.62h2.3M601.85 532.62h-2.3M356.7 529.59h2.3M601.85 529.59h-2.3M356.7 526.55h2.3M601.85 526.55h-2.3M356.7 523.52h2.3M601.85 523.52h-2.3M356.7 520.48h2.3M601.85 520.48h-2.3M356.7 514.41h2.3M601.85 514.41h-2.3M356.7 511.38h2.3M601.85 511.38h-2.3M356.7 508.34h2.3M601.85 508.34h-2.3M356.7 505.31h2.3M601.85 505.31h-2.3M356.7 502.27h2.3M601.85 502.27h-2.3M356.7 499.24h2.3M601.85 499.24h-2.3M356.7 496.2h2.3M601.85 496.2h-2.3M356.7 493.17h2.3M601.85 493.17h-2.3M356.7 490.13h2.3M601.85 490.13h-2.3M356.7 484.06h2.3M601.85 484.06h-2.3M356.7 481.03h2.3M601.85 481.03h-2.3M356.7 477.99h2.3M601.85 477.99h-2.3M356.7 474.96h2.3M601.85 474.96h-2.3M356.7 471.93h2.3M601.85 471.93h-2.3M356.7 468.89h2.3M601.85 468.89h-2.3M356.7 465.86h2.3M601.85 465.86h-2.3M356.7 462.82h2.3M601.85 462.82h-2.3M356.7 459.79h2.3M601.85 459.79h-2.3M356.7 453.72h2.3M601.85 453.72h-2.3M356.7 450.68h2.3M601.85 450.68h-2.3M356.7 447.65h2.3M601.85 447.65h-2.3M356.7 444.61h2.3M601.85 444.61h-2.3M356.7 441.58h2.3M601.85 441.58h-2.3M356.7 438.54h2.3M601.85 438.54h-2.3M356.7 435.51h2.3M601.85 435.51h-2.3M356.7 432.47h2.3M601.85 432.47h-2.3M356.7 429.44h2.3M601.85 429.44h-2.3M356.7 423.37h2.3M601.85 423.37h-2.3M356.7 420.33h2.3M601.85 420.33h-2.3M356.7 417.3h2.3M601.85 417.3h-2.3" stroke="#000" stroke-width="0.6" fill="none"/>
<path d="M603 415.8H356.7V578.4H603" fill="none" stroke="#000" stroke-width="0.6"/>
<text y="414.3"><tspan x="357.4" font-size="12.8" dy="1.8">×</tspan><tspan x="365.4" dy="-1.8" font-size="9.5">10</tspan><tspan x="375" font-size="7.4" dy="-3.7">1</tspan></text>
<text x="479.27" y="598.6" font-size="13.5" text-anchor="middle" textLength="22.9" lengthAdjust="spacingAndGlyphs">%IC</text>
<text transform="translate(335.1,499.7) rotate(-90)" font-size="12.2" text-anchor="middle" textLength="38.6" lengthAdjust="spacing">entropy</text>
<text x="374" y="432.6" font-size="12.2" text-anchor="start" >e)</text>
<line x1="367.7" y1="547.3" x2="590.7" y2="547.3" stroke="#e8365a" stroke-width="1.0" stroke-dasharray="2.35 1.05"/>
<polyline points="367.7,571.2 412.3,442.4 456.9,429.2 501.5,425.9 546.1,430.9 590.7,464" fill="none" stroke="#1f68d2" stroke-width="1.1" stroke-dasharray="2.35 1.05"/>
<line x1="367.7" y1="570.9" x2="367.7" y2="571.5" stroke="#111" stroke-width="0.9" />
<line x1="365.8" y1="570.9" x2="369.6" y2="570.9" stroke="#111" stroke-width="0.8" />
<line x1="365.8" y1="571.5" x2="369.6" y2="571.5" stroke="#111" stroke-width="0.8" />
<line x1="412.3" y1="441.6" x2="412.3" y2="443.2" stroke="#111" stroke-width="0.9" />
<line x1="410.4" y1="441.6" x2="414.2" y2="441.6" stroke="#111" stroke-width="0.8" />
<line x1="410.4" y1="443.2" x2="414.2" y2="443.2" stroke="#111" stroke-width="0.8" />
<line x1="456.9" y1="427.2" x2="456.9" y2="431.2" stroke="#111" stroke-width="0.9" />
<line x1="455" y1="427.2" x2="458.8" y2="427.2" stroke="#111" stroke-width="0.8" />
<line x1="455" y1="431.2" x2="458.8" y2="431.2" stroke="#111" stroke-width="0.8" />
<line x1="501.5" y1="423.4" x2="501.5" y2="428.4" stroke="#111" stroke-width="0.9" />
<line x1="499.6" y1="423.4" x2="503.4" y2="423.4" stroke="#111" stroke-width="0.8" />
<line x1="499.6" y1="428.4" x2="503.4" y2="428.4" stroke="#111" stroke-width="0.8" />
<line x1="546.1" y1="427.4" x2="546.1" y2="434.4" stroke="#111" stroke-width="0.9" />
<line x1="544.2" y1="427.4" x2="548" y2="427.4" stroke="#111" stroke-width="0.8" />
<line x1="544.2" y1="434.4" x2="548" y2="434.4" stroke="#111" stroke-width="0.8" />
<line x1="590.7" y1="456.3" x2="590.7" y2="471.7" stroke="#111" stroke-width="0.9" />
<line x1="588.8" y1="456.3" x2="592.6" y2="456.3" stroke="#111" stroke-width="0.8" />
<line x1="588.8" y1="471.7" x2="592.6" y2="471.7" stroke="#111" stroke-width="0.8" />
<circle cx="367.7" cy="571.2" r="2.2" fill="#0846cf" stroke="#15152a" stroke-width="0.6"/>
<circle cx="412.3" cy="442.4" r="2.2" fill="#0846cf" stroke="#15152a" stroke-width="0.6"/>
<circle cx="456.9" cy="429.2" r="2.2" fill="#0846cf" stroke="#15152a" stroke-width="0.6"/>
<circle cx="501.5" cy="425.9" r="2.2" fill="#0846cf" stroke="#15152a" stroke-width="0.6"/>
<circle cx="546.1" cy="430.9" r="2.2" fill="#0846cf" stroke="#15152a" stroke-width="0.6"/>
<circle cx="590.7" cy="464" r="2.2" fill="#0846cf" stroke="#15152a" stroke-width="0.6"/>
<rect x="365.6" y="545.2" width="4.2" height="4.2" fill="#e0002e" stroke="#15152a" stroke-width="0.6"/>
<rect x="288.6" y="14.3" width="57.4" height="45.2" rx="1.6" fill="#fff" stroke="#d0d0d0" stroke-width="0.8"/>
<text x="317.4" y="27.3" font-size="12.2" text-anchor="middle" >Model</text>
<line x1="292" y1="38" x2="310.3" y2="38" stroke="#1f68d2" stroke-width="1.0" stroke-dasharray="2.35 1.05"/>
<line x1="301.1" y1="33.5" x2="301.1" y2="42.5" stroke="#111" stroke-width="0.9" />
<line x1="299" y1="33.5" x2="303.2" y2="33.5" stroke="#111" stroke-width="0.8" />
<line x1="299" y1="42.5" x2="303.2" y2="42.5" stroke="#111" stroke-width="0.8" />
<circle cx="301.1" cy="38" r="2.3" fill="#0846cf" stroke="#15152a" stroke-width="0.6"/>
<text x="317.5" y="41.5" font-size="9.1" text-anchor="start" textLength="25.2" lengthAdjust="spacingAndGlyphs">TG186</text>
<line x1="292" y1="50.8" x2="310.3" y2="50.8" stroke="#e8365a" stroke-width="1.0" stroke-dasharray="2.35 1.05"/>
<line x1="301.1" y1="46.3" x2="301.1" y2="55.3" stroke="#111" stroke-width="0.9" />
<line x1="299" y1="46.3" x2="303.2" y2="46.3" stroke="#111" stroke-width="0.8" />
<line x1="299" y1="55.3" x2="303.2" y2="55.3" stroke="#111" stroke-width="0.8" />
<rect x="299" y="48.7" width="4.2" height="4.2" fill="#e0002e" stroke="#15152a" stroke-width="0.6"/>
<text x="317.5" y="54.3" font-size="9.1" text-anchor="start" textLength="20.3" lengthAdjust="spacingAndGlyphs">TG43</text>
</svg>
</body></html>
